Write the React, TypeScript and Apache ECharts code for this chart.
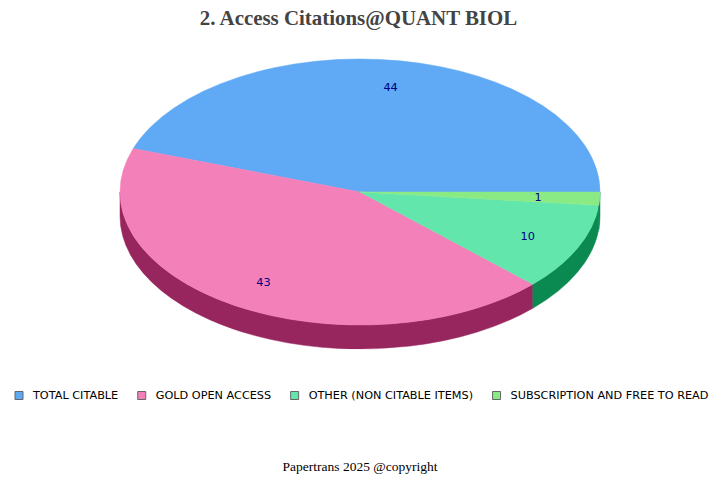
import React, { useEffect, useRef } from "react";
import * as echarts from "echarts";

const categories = ["TOTAL CITABLE", "GOLD OPEN ACCESS", "OTHER (NON CITABLE ITEMS)", "SUBSCRIPTION AND FREE TO READ"];
// Shares
const shares = [44.7, 43.1, 10.6, 1.6];
// Labels as printed on the slices
const sliceLabels = ["44", "43", "10", "1"];
const topColors = ["#5FA9F5", "#F480BA", "#62E6AC", "#8AEB84"];
const wallColors = ["#2A6FB5", "#98265E", "#0A8A50", "#0A8A50"];

const CX = 360;
const CY = 192;
const RX = 240;
const RY = 133;
const DEPTH = 24;
const LABEL_RX = 0.77;
const LABEL_RY = 0.8;

const total = shares.reduce((a, b) => a + b, 0);
let running = 0;
const spans = shares.map((v) => {
  const start = (running / total) * Math.PI * 2;
  running += v;
  return [start, (running / total) * Math.PI * 2];
});

const px = (a: number) => CX + RX * Math.cos(a);
const py = (a: number, dy = 0) => CY - RY * Math.sin(a) + dy;

function topPath(a0: number, a1: number) {
  const large = a1 - a0 > Math.PI ? 1 : 0;
  return `M${CX} ${CY}L${px(a0)} ${py(a0)}A${RX} ${RY} 0 ${large} 0 ${px(a1)} ${py(a1)}Z`;
}

function wallPath(a0: number, a1: number) {
  const s = Math.max(a0, Math.PI);
  const e = Math.min(a1, Math.PI * 2);
  if (e <= s) return null;
  return `M${px(s)} ${py(s)}A${RX} ${RY} 0 0 0 ${px(e)} ${py(e)}L${px(e)} ${py(e, DEPTH)}A${RX} ${RY} 0 0 1 ${px(s)} ${py(s, DEPTH)}Z`;
}

function makeSeries(i: number) {
  return {
    type: "custom",
    name: categories[i],
    coordinateSystem: "none",
    silent: true,
    itemStyle: { color: topColors[i] },
    data: [spans[i]],
    renderItem: (_p: unknown, api: any) => {
      const a0 = api.value(0);
      const a1 = api.value(1);
      const mid = (a0 + a1) / 2;
      // very thin slices sit their label slightly further in
      const radial = a1 - a0 < 0.2 ? 0.965 : 1;
      const children: any[] = [];
      const wall = wallPath(a0, a1);
      if (wall) {
        children.push({
          type: "path",
          shape: { pathData: wall },
          style: { fill: wallColors[i], stroke: wallColors[i], lineWidth: 0.5 },
        });
      }
      children.push({
        type: "path",
        shape: { pathData: topPath(a0, a1) },
        style: { fill: topColors[i], stroke: topColors[i], lineWidth: 0.5 },
      });
      children.push({
        type: "text",
        z2: 10,
        style: {
          x: CX + RX * LABEL_RX * radial * Math.cos(mid),
          y: CY - RY * LABEL_RY * Math.sin(mid),
          text: sliceLabels[i],
          fill: "#000080",
          font: '11.25px "DejaVu Sans"',
          align: "center",
          verticalAlign: "middle",
        },
      });
      return { type: "group", children };
    },
  };
}

export default function App() {
  const ref = useRef<HTMLDivElement>(null);
  useEffect(() => {
    const chart = echarts.init(ref.current!, null, { renderer: "svg", width: 720, height: 480 });
    chart.setOption({
      animation: false,
      backgroundColor: "#ffffff",
      title: [
        {
          text: "2. Access Citations@QUANT BIOL",
          left: 353.5,
          top: 2,
          textAlign: "center",
          textStyle: { fontFamily: '"Liberation Serif"', fontSize: 20.9, fontWeight: "bold", color: "#444444" },
        },
        {
          text: "Papertrans 2025 @copyright",
          left: 355,
          top: 454,
          textAlign: "center",
          textStyle: { fontFamily: '"Liberation Serif"', fontSize: 13.5, fontWeight: "normal", color: "#000000" },
        },
      ],
      legend: {
        left: 14.5,
        top: 390,
        padding: 0,
        itemWidth: 8,
        itemHeight: 8,
        itemGap: 19,
        selectedMode: false,
        textStyle: { fontFamily: '"DejaVu Sans"', fontSize: 11.25, color: "#000000", padding: [0, 0, 0, 5] },
        data: categories.map((name, i) => ({
          name,
          icon: "rect",
          itemStyle: { color: topColors[i], borderColor: "#666666", borderWidth: 1 },
        })),
      },
      series: categories.map((_, i) => makeSeries(i)),
    });
    return () => chart.dispose();
  }, []);
  return <div ref={ref} style={{ position: "absolute", left: 0, top: 0, width: 720, height: 480 }} />;
}
